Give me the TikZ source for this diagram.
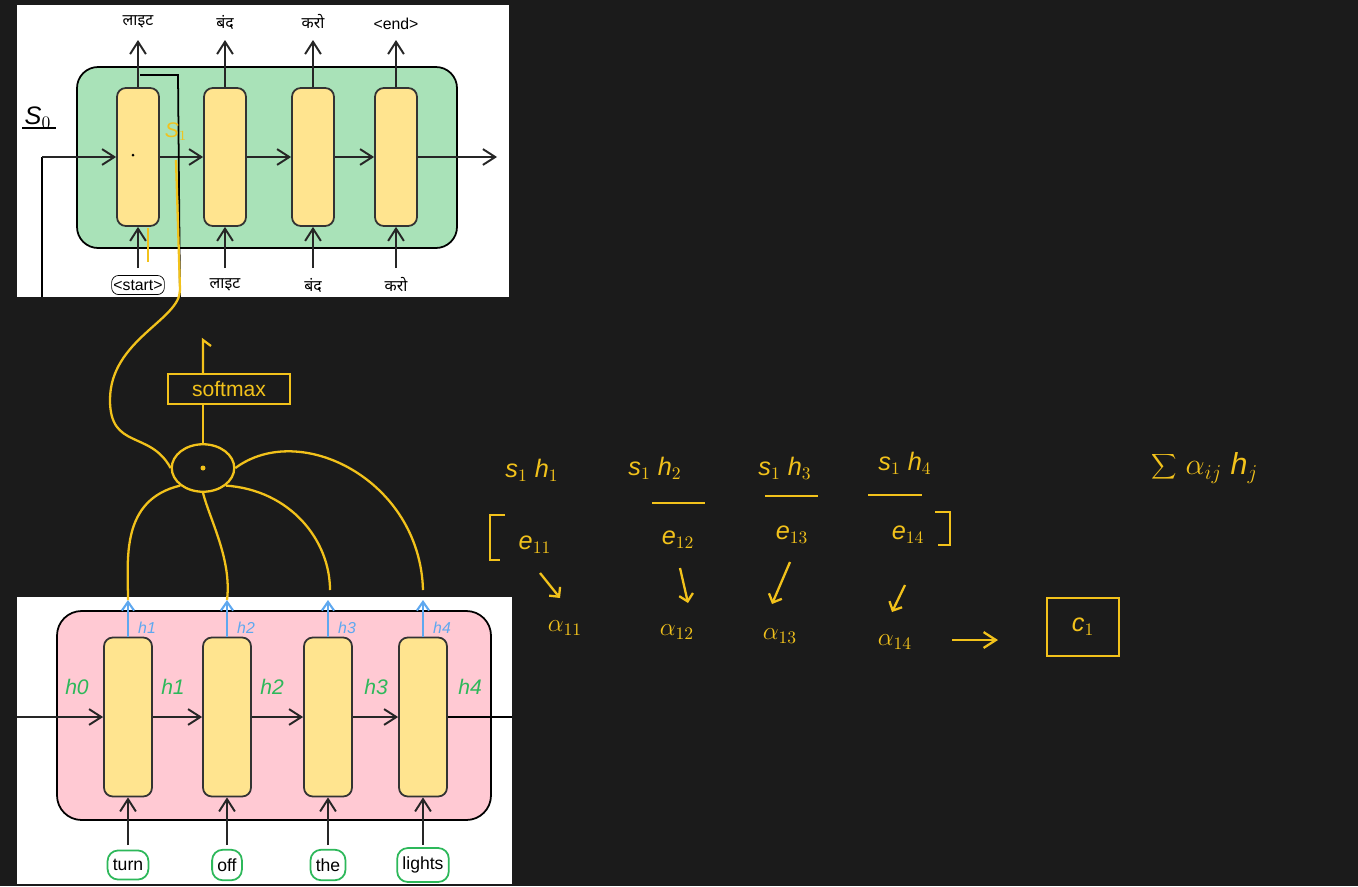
\documentclass[tikz,border=0pt]{standalone}
\usepackage{fontspec}
\setmainfont{Liberation Sans}
\newfontfamily\deva[Script=Devanagari]{Noto Sans}
\usetikzlibrary{arrows.meta,shapes.geometric}
\definecolor{bg}{HTML}{1B1B1B}
\definecolor{grn}{HTML}{A9E2B8}
\definecolor{pnk}{HTML}{FFC9D3}
\definecolor{cell}{HTML}{FFE48F}
\definecolor{yel}{HTML}{F2C21B}
\definecolor{hgr}{HTML}{2DB85A}
\definecolor{blu}{HTML}{5EA8F0}
\tikzset{
 cellbox/.style={draw=black!80,fill=cell,rounded corners=5pt,line width=1pt},
 arr/.style={-{Straight Barb[length=7pt,width=9pt]},line width=1.1pt,black!85},
 yl/.style={yel,line width=1.3pt},
 ytx/.style={text=yel,font=\Large},
 lab/.style={font=\small},
 dlab/.style={font=\deva\small},
}
\begin{document}
\begin{tikzpicture}[x=0.02cm,y=-0.02cm]
\fill[bg] (0,0) rectangle (1358,886);
% top panel
\fill[white] (17,5) rectangle (509,297);
\draw[fill=grn,rounded corners=12pt,line width=1pt] (77,67) rectangle (457,248);
\foreach \i/\x in {1/138,2/225,3/313,4/396}{
 \node[cellbox,minimum width=0.84cm,minimum height=2.76cm] (d\i) at (\x,157) {};
 \coordinate (dt\i) at (\x,40);
 \coordinate (db\i) at (\x,268);
 \draw[arr] (db\i) -- (d\i.south);
 \draw[arr] (d\i.north) -- (dt\i);
}
\node[dlab] (o1) at (138,22) {लाइट};
\node[dlab] (o2) at (225,22) {बंद};
\node[dlab] (o3) at (313,22) {करो};
\node[lab] (o4) at (396,24) {<end>};
\node[lab,draw,rounded corners=4pt,inner xsep=1pt,inner ysep=2.5pt] (i1) at (138,285) {<start>};
\node[dlab] (i2) at (225,285) {लाइट};
\node[dlab] (i3) at (313,285) {बंद};
\node[dlab] (i4) at (396,285) {करो};
\coordinate (sl) at (42,157); \coordinate (slb) at (42,297);
\coordinate (sr) at (497,157);
\draw[line width=1.1pt] (slb) -- (sl);
\draw[arr] (sl) -- (d1.west);
\draw[arr] (d1.east) -- (d2.west);
\draw[arr] (d2.east) -- (d3.west);
\draw[arr] (d3.east) -- (d4.west);
\draw[arr] (d4.east) -- (sr);
\draw[line width=1pt] (140,75) -- (178,75) -- (180,297);
\fill (133,155) circle (1.5);
\node[font=\Large\itshape] (s0) at (38,118) {S$_0$};
\draw[line width=1pt] (22,128) -- (56,128);
\node[ytx,font=\large\itshape] (s1) at (176,132) {S$_1$};
% bottom panel
\fill[white] (17,597) rectangle (512,884);
\draw[fill=pnk,rounded corners=14pt,line width=1pt] (57,611) rectangle (491,820);
\foreach \i/\x in {1/128,2/227,3/328,4/423}{
 \node[cellbox,minimum width=0.96cm,minimum height=3.18cm] (e\i) at (\x,717) {};
 \coordinate (eb\i) at (\x,845);
 \coordinate (et\i) at (\x,600);
 \draw[arr] (eb\i) -- (e\i.south);
 \draw[-{Straight Barb[length=5pt,width=7pt]},blu,line width=1.2pt] (e\i.north) -- (et\i);
 \node[blu,font=\small\itshape,anchor=west] (hb\i) at (\x+4,628) {h\i};
}
\foreach \i/\w in {1/turn,2/off,3/the,4/lights}{
 \node[draw=hgr,line width=1pt,rounded corners=6pt,inner xsep=3pt,inner ysep=5pt] (w\i) at (e\i|-0,865) {\w};
}
\coordinate (hl) at (17,717); \coordinate (hr) at (512,717);
\draw[arr] (hl) -- (e1.west);
\draw[arr] (e1.east) -- (e2.west);
\draw[arr] (e2.east) -- (e3.west);
\draw[arr] (e3.east) -- (e4.west);
\draw[line width=1.1pt] (e4.east) -- (hr);
\foreach \t/\x in {h0/77,h1/173,h2/272,h3/376,h4/470}
 \node[text=hgr,font=\large\itshape] at (\x,687) {\t};
% yellow annotations
\node[draw=yel,line width=1.3pt,text=yel,minimum width=2.45cm,minimum height=0.6cm,font=\large] (sm) at (229,389) {softmax};
\coordinate (smt) at (203,340);
\draw[yl] (sm.north -| smt) -- (smt) -- ++(8,6);
\node[draw=yel,ellipse,line width=1.3pt,minimum width=1.25cm,minimum height=0.95cm] (dot) at (203,468) {};
\fill[yel] (dot) circle (2.5);
\draw[yl] (dot.north) -- (sm.south -| dot);
\draw[yl] (dot.west) .. controls (150,430) and (110,450) .. (110,400) .. controls (110,340) and (180,320) .. (180,290) -- (176,160);
\draw[yl] (dot.south west) .. controls (120,500) and (128,560) .. (et1);
\draw[yl] (dot.south) .. controls (210,520) and (232,560) .. (et2);
\draw[yl] (dot.south east) .. controls (290,490) and (330,540) .. (330,590);
\draw[yl] (dot.east) .. controls (300,420) and (420,480) .. (423,590);
\draw[yl] (148,228) -- (148,262);
% right side
\foreach \i/\x/\y in {1/532/470,2/655/468,3/785/468,4/905/463}
 \node[ytx,font=\Large\itshape] (p\i) at (\x,\y) {s$_1$ h$_\i$};
\draw[yl] (652,503) -- (705,503);
\draw[yl] (765,496) -- (818,496);
\draw[yl] (868,495) -- (922,495);
\foreach \i/\x/\y in {1/535/545,2/678/540,3/792/535,4/908/535}
 \node[ytx,font=\Large\itshape] (q\i) at (\x,\y) {e$_{1\i}$};
\draw[yl] (505,515) -- (490,515) -- (490,560) -- (500,560);
\draw[yl] (935,512) -- (950,512) -- (950,545) -- (938,545);
\foreach \i/\x/\y in {1/565/628,2/677/632,3/780/636,4/895/642}
 \node[ytx,font=\Large\itshape] (a\i) at (\x,\y) {$\alpha_{1\i}$};
\draw[yl,-{Straight Barb[length=4pt]}] (540,573) -- (560,598);
\draw[yl,-{Straight Barb[length=4pt]}] (680,568) -- (688,603);
\draw[yl,-{Straight Barb[length=4pt]}] (790,562) -- (772,604);
\draw[yl,-{Straight Barb[length=4pt]}] (905,585) -- (892,612);
\node[draw=yel,line width=1.3pt,text=yel,font=\Large\itshape,minimum width=1.45cm,minimum height=1.15cm] (c1) at (1083,627) {c$_1$};
\coordinate (ca) at (952,640);
\draw[yl,-{Straight Barb[length=7pt,width=9pt]}] (ca) -- (998,640);
\node[ytx,font=\LARGE\itshape] (sum) at (1205,468) {$\displaystyle\sum$ $\alpha_{ij}$ h$_j$};
\end{tikzpicture}
\end{document}
